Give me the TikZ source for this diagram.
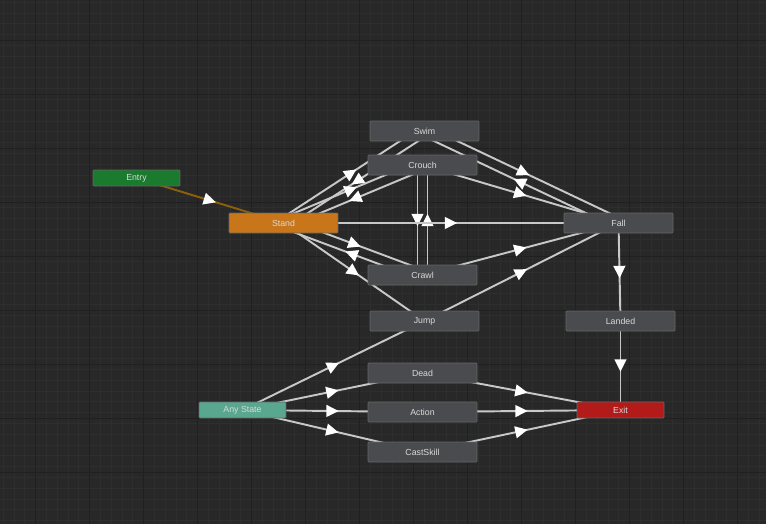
\documentclass[tikz,border=0pt]{standalone}
\usepackage{fontspec}
\setmainfont{Liberation Sans}
\usetikzlibrary{calc,decorations.markings,arrows.meta}
\pgfdeclarelayer{bg}\pgfdeclarelayer{grid}
\pgfsetlayers{grid,bg,main}
\definecolor{bgc}{HTML}{282828}
\definecolor{minor}{HTML}{2E2E2E}
\definecolor{major}{HTML}{202020}
\definecolor{stc}{HTML}{4A4B4E}
\definecolor{lnc}{HTML}{C8C8C8}
\tikzset{
 st/.style={draw=black!60,fill=stc,minimum width=2.18cm,minimum height=0.4cm,inner sep=0pt,text=white!85!black,font=\fontsize{5}{6}\selectfont,rounded corners=0.5pt},
 sm/.style={st,minimum width=1.74cm,minimum height=0.32cm},
 tr/.style={draw=lnc,line width=1.1pt,postaction={decorate},decoration={markings,mark=at position 0.5 with {\fill[white] (3.5pt,0)--(-3.5pt,3.5pt)--(-3.5pt,-3.5pt)--cycle;}}},
}
\newcommand{\trn}[3]{\draw[tr] ($(#1.center)!#3!90:(#2.center)$) -- ($(#2.center)!#3!-90:(#1.center)$);}
\begin{document}
\begin{tikzpicture}[x=0.02cm,y=-0.02cm]
\useasboundingbox (0,0) rectangle (766,524);
\begin{pgfonlayer}{grid}
\clip (0,0) rectangle (766,524);
\fill[bgc] (0,0) rectangle (766,524);
\foreach \i in {0,...,70}{\draw[minor,line width=0.3pt] (\i*10.8+3,0)--(\i*10.8+3,524);}
\foreach \i in {0,...,49}{\draw[minor,line width=0.3pt] (0,\i*10.8+2)--(766,\i*10.8+2);}
\foreach \i in {0,...,14}{\draw[major,line width=0.5pt] (\i*54+35,0)--(\i*54+35,524);}
\foreach \i in {0,...,9}{\draw[major,line width=0.5pt] (0,\i*54+40)--(766,\i*54+40);}
\end{pgfonlayer}
\node[sm,fill={rgb,255:red,26;green,122;blue,46}] (entry) at (136.5,178) {Entry};
\node[st,fill={rgb,255:red,200;green,118;blue,25}] (stand) at (283.5,223) {Stand};
\node[st] (swim) at (424.5,131) {Swim};
\node[st] (crouch) at (422.5,165) {Crouch};
\node[st] (fall) at (618.5,223) {Fall};
\node[st] (crawl) at (422.5,275) {Crawl};
\node[st] (jump) at (424.5,321) {Jump};
\node[st] (landed) at (620.5,321) {Landed};
\node[st] (dead) at (422.5,373) {Dead};
\node[st] (action) at (422.5,412) {Action};
\node[st] (cast) at (422.5,452) {CastSkill};
\node[sm,fill={rgb,255:red,90;green,167;blue,143}] (any) at (242.5,410) {Any State};
\node[sm,fill={rgb,255:red,179;green,26;blue,26}] (exit) at (620.5,410) {Exit};
\begin{pgfonlayer}{bg}
\draw[tr,draw={rgb,255:red,140;green,95;blue,10}] (entry.center) -- (stand.center);
\trn{stand}{swim}{0.1cm}\trn{swim}{stand}{0.1cm}
\trn{stand}{crouch}{0.1cm}\trn{crouch}{stand}{0.1cm}
\trn{stand}{crawl}{0.1cm}\trn{crawl}{stand}{0.1cm}
\trn{crouch}{crawl}{-0.1cm}\trn{crawl}{crouch}{-0.1cm}
\trn{swim}{fall}{0.1cm}\trn{fall}{swim}{0.1cm}
\draw[tr] (stand.center) -- (fall.center);
\draw[tr] (stand.center) -- (jump.center);
\draw[tr] (crouch.center) -- (fall.center);
\draw[tr] (crawl.center) -- (fall.center);
\draw[tr] (jump.center) -- (fall.center);
\draw[tr] (fall.center) -- (landed.center);
\draw[tr] (landed.center) -- (exit.center);
\draw[tr] (any.center) -- (jump.center);
\draw[tr] (any.center) -- (dead.center);
\draw[tr] (any.center) -- (action.center);
\draw[tr] (any.center) -- (cast.center);
\draw[tr] (dead.center) -- (exit.center);
\draw[tr] (action.center) -- (exit.center);
\draw[tr] (cast.center) -- (exit.center);
\end{pgfonlayer}
\end{tikzpicture}
\end{document}
